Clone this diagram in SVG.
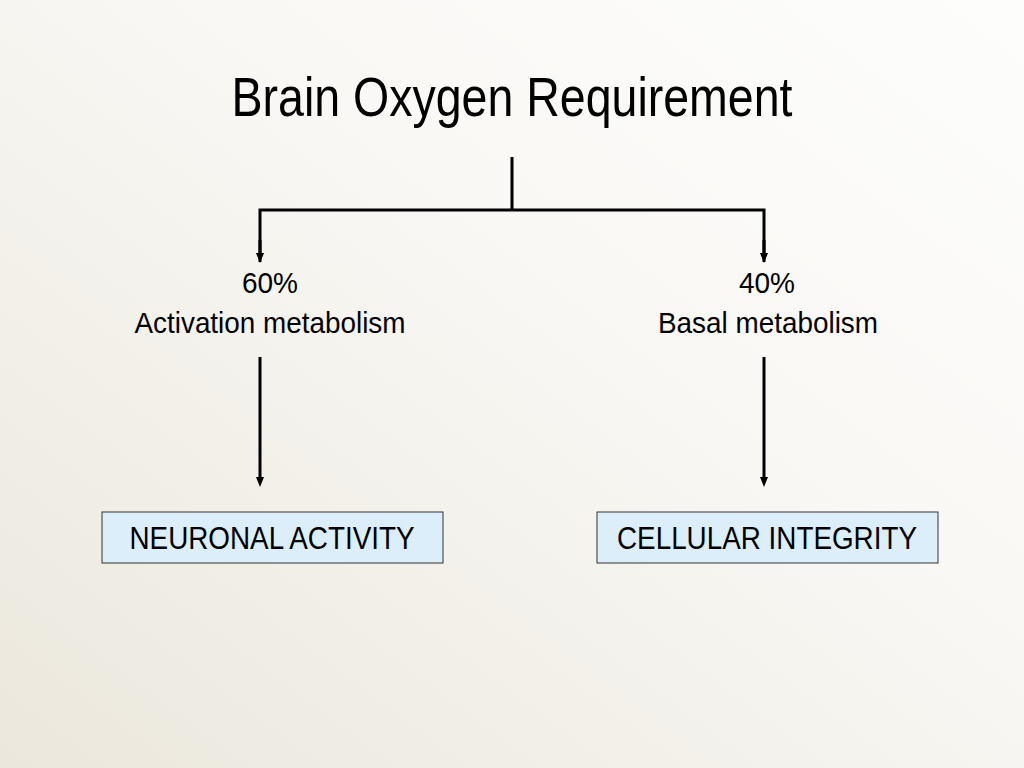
<svg xmlns="http://www.w3.org/2000/svg" width="1024" height="768" viewBox="0 0 1024 768">
<defs>
<linearGradient id="bg" x1="0" y1="1" x2="1" y2="0">
<stop offset="0" stop-color="#ebe7dc"/>
<stop offset="0.6" stop-color="#f9f8f5"/>
<stop offset="1" stop-color="#fdfdfc"/>
</linearGradient>
<marker id="ah" markerWidth="10" markerHeight="10" refX="5" refY="5" orient="auto" markerUnits="userSpaceOnUse">
<path d="M0,1 L10,5 L0,9 Z" fill="#000"/>
</marker>
<style>
text{font-family:"Liberation Sans",Arial,sans-serif;fill:#000;text-anchor:middle}
.l{font-size:30px}
.b{font-size:31px}
.box{fill:#dbeefa;stroke:#333;stroke-width:1}
.c{stroke:#000;stroke-width:3;fill:none}
</style>
</defs>
<rect width="1024" height="768" fill="url(#bg)"/>
<text x="512" y="116" font-size="55" textLength="561" lengthAdjust="spacingAndGlyphs">Brain Oxygen Requirement</text>
<g id="connectors">
<polyline class="c" points="512,157 512,210"/>
<polyline class="c" points="260,262 260,210 764,210 764,262" />
<line class="c" x1="260" y1="240" x2="260" y2="258" marker-end="url(#ah)"/>
<line class="c" x1="764" y1="240" x2="764" y2="258" marker-end="url(#ah)"/>
<line class="c" x1="260" y1="357" x2="260" y2="482" marker-end="url(#ah)"/>
<line class="c" x1="764" y1="357" x2="764" y2="482" marker-end="url(#ah)"/>
</g>
<g id="label-left">
<text class="l" x="270" y="293" textLength="56" lengthAdjust="spacingAndGlyphs">60%</text>
<text class="l" x="270" y="333" textLength="271" lengthAdjust="spacingAndGlyphs">Activation metabolism</text>
</g>
<g id="label-right">
<text class="l" x="767" y="293" textLength="56" lengthAdjust="spacingAndGlyphs">40%</text>
<text class="l" x="768" y="333" textLength="220" lengthAdjust="spacingAndGlyphs">Basal metabolism</text>
</g>
<g id="node-neuronal">
<rect class="box" x="102" y="512" width="341" height="51"/>
<text class="b" x="272" y="549" textLength="285" lengthAdjust="spacingAndGlyphs">NEURONAL ACTIVITY</text>
</g>
<g id="node-cellular">
<rect class="box" x="597" y="512" width="341" height="51"/>
<text class="b" x="767" y="549" textLength="300" lengthAdjust="spacingAndGlyphs">CELLULAR INTEGRITY</text>
</g>
</svg>
